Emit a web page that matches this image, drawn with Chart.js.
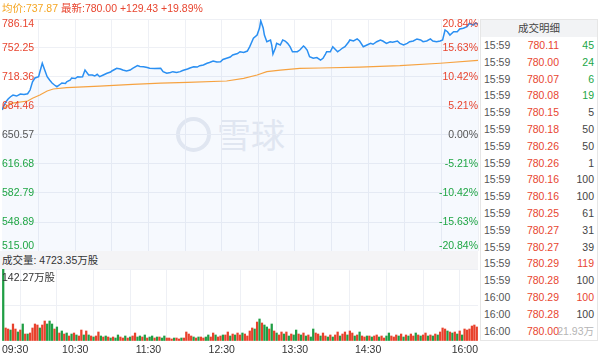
<!DOCTYPE html>
<html><head><meta charset="utf-8">
<script src="https://cdn.jsdelivr.net/npm/chart.js@4/dist/chart.umd.min.js"></script>
<style>
body{margin:0;width:600px;height:358px;overflow:hidden;background:#fff;position:relative;font-family:Arial,"Liberation Sans","Noto Sans CJK SC",sans-serif;font-size:10.5px}
.abs{position:absolute;white-space:nowrap}
#wm{left:176px;top:116px;color:#e9ecf2;font-size:34px;line-height:36px;font-family:"Noto Sans CJK SC",sans-serif}
#wmc{left:176px;top:117px;width:27px;height:27px;border:4px solid #e9ecf2;border-radius:50%}
#band{left:0;top:251px;width:478px;height:18px;background:#f4f4f6;line-height:18px;color:#333}
#panel{left:480px;top:19px;width:116px;height:320px;border:1px solid #e6e6e6;background:#fff}
#phead{left:0;top:0;width:116px;height:17px;background:#f2f3f5;line-height:17px;text-align:center;color:#444}
</style></head>
<body>
<div id="wmc" class="abs"></div>
<div id="wm" class="abs" style="left:217px">雪球</div>
<div class="abs" style="left:0;top:0;width:480px;height:252px"><canvas id="pc"></canvas></div>
<div id="band" class="abs"><span style="padding-left:2px">成交量: 4723.35万股</span></div>
<div class="abs" style="left:0;top:268px;width:480px;height:90px"><canvas id="vc"></canvas></div>
<div class="abs" style="left:2px;top:2px;line-height:12px;color:#f5a623">均价:737.87</div>
<div class="abs" style="left:61px;top:2px;line-height:12px;color:#e8452f">最新:780.00 +129.43 +19.89%</div>
<div id="panel" class="abs"><div id="phead" class="abs">成交明细</div></div>
<script>
// ---- data ----
const prevClose = 650.57;
const priceTicks = [515.00, 548.89, 582.79, 616.68, 650.57, 684.46, 718.36, 752.25, 786.14];
const priceMinutes = [0,3,5,7,9,12,15,18,21,23,25,27,30,31,33,35,37,39,41,43,45,48,49,52,53,56,57,60,62,64,66,68,71,74,76,78,80,83,86,89,90,93,94,97,99,102,105,107,111,113,116,119,121,125,130,132,135,138,140,143,146,148,152,154,157,160,162,165,168,170,173,176,179,181,184,187,189,193,195,198,201,203,206,209,211,212,214,215,217,220,221,222,224,225,228,230,232,234,236,238,242,244,247,248,250,252,255,258,261,263,265,266,269,271,275,277,279,281,284,285,288,291,293,296,299,302,304,307,310,312,315,318,320,324,326,329,332,334,337,340,343,345,348,351,353,356,359,361,363,365,367,370,373,375,378,381,383,386,388,390];
const priceValues = [680.0,689.1,692.6,695.3,697.3,696.1,698.5,697.9,698.8,703.1,712.8,717.2,718.7,724.2,734.4,726.5,718.7,714.8,711.3,709.0,707.0,710.2,711.3,710.8,712.8,714.8,717.2,716.6,718.7,718.4,718.7,726.5,720.7,720.7,719.5,721.5,718.7,720.7,722.7,724.2,725.4,727.7,728.5,727.7,726.5,725.4,726.5,728.5,731.6,730.6,730.4,729.5,728.5,728.3,728.5,724.6,722.7,723.6,724.6,723.6,724.6,726.0,727.7,728.9,730.4,730.0,731.6,732.4,734.4,735.3,737.1,735.9,736.2,738.8,740.2,741.7,744.1,745.8,747.9,747.0,748.7,753.8,763.6,767.4,775.6,784.0,775.6,767.4,759.6,761.6,755.7,745.2,752.2,757.7,755.8,761.6,760.4,757.7,753.8,747.9,747.9,749.9,754.6,753.4,749.9,742.1,740.2,741.1,738.2,740.2,745.2,747.9,747.9,753.8,747.9,749.9,752.2,753.8,759.3,761.6,760.4,762.8,760.4,753.8,755.8,757.7,756.6,759.6,761.6,760.4,757.7,759.6,758.9,760.4,757.7,755.8,757.7,759.6,760.4,762.8,761.6,759.6,760.4,762.8,760.4,759.6,760.4,761.6,773.3,771.3,767.4,771.3,771.3,774.5,775.3,777.1,781.1,779.1,781.5,780.0];
const avgMinutes = [0,7,21,25,31,37,42,53,80,107,130,152,184,198,209,217,228,244,261,293,326,359,390];
const avgValues = [680.0,687.6,690.3,693.5,697.3,702.0,704.3,705.9,707.8,709.8,711.3,712.1,713.7,716.8,720.7,724.6,726.5,728.5,728.9,730.0,731.6,734.4,737.87];
// volume per 2-minute bucket, 万股
const volumes = [
142.27,25.7,23.7,21.7,33.6,23.7,17.8,21.7,33.6,13.8,13.8,15.8,25.7,33.6,31.6,
25.7,31.6,39.5,33.6,39.5,33.6,23.7,27.7,15.8,19.8,13.8,15.8,9.9,13.8,15.8,
11.9,9.9,21.7,11.9,19.8,11.9,9.9,7.9,9.9,17.8,9.9,7.9,9.9,7.9,5.9,
7.9,5.9,11.9,7.9,5.9,9.9,5.9,7.9,9.9,15.8,7.9,9.9,7.9,11.9,5.9,
7.9,9.9,5.9,7.9,7.9,5.9,9.9,5.9,5.9,4.0,5.9,5.9,4.0,5.9,5.9,
17.8,13.8,9.9,7.9,5.9,7.9,7.9,5.9,7.9,11.9,7.9,15.8,11.9,7.9,9.9,
11.9,11.9,17.8,9.9,13.8,11.9,15.8,11.9,15.8,13.8,9.9,19.8,25.7,23.7,37.5,
43.5,35.6,31.6,27.7,23.7,33.6,19.8,15.8,11.9,17.8,13.8,17.8,9.9,13.8,11.9,
21.7,13.8,11.9,15.8,9.9,11.9,7.9,23.7,15.8,13.8,9.9,15.8,9.9,7.9,11.9,
7.9,11.9,17.8,9.9,13.8,17.8,11.9,19.8,15.8,9.9,11.9,17.8,9.9,7.9,9.9,
9.9,7.9,9.9,11.9,7.9,9.9,5.9,9.9,15.8,9.9,7.9,11.9,9.9,13.8,7.9,
11.9,9.9,13.8,9.9,15.8,11.9,9.9,11.9,15.8,9.9,11.9,9.9,13.8,11.9,17.8,
25.7,23.7,19.8,17.8,15.8,17.8,13.8,19.8,11.9,23.7,21.7,23.7,29.6,31.6,27.7];
const volumeDir = (
"grrgrrgrgrgrrrr"+"grrgggrgrgrgrgr"+"grrgrgrgrrgrgrg"+"rggrrgrgrrggrgr"+"ggrgrggrrrgrrgr"+
"rrrgrgrrggrrgrr"+"grrgrgrrgrrrrgr"+"grggrgrgrrgrgrg"+"grgrgrggrrgrrgr"+"grrgrrgrrgrgrrg"+
"rgrrgrrggrrrgrg"+"rgrrgrgrrgrgrgr"+"rrgrgrgrgrrrrrr").split('');
const volMax = 142.27;
const timeTickMinutes = [0,60,120,180,240,300,390];
const timeTickLabels = ['09:30','10:30','11:30','12:30','13:30','14:30','16:00'];
const tradeTimes = ['15:59','15:59','15:59','15:59','15:59','15:59','15:59','15:59','15:59','15:59','15:59','15:59','15:59','15:59','15:59','16:00','16:00','16:00'];
const tradePrices = ['780.11','780.00','780.07','780.08','780.15','780.18','780.26','780.26','780.16','780.16','780.25','780.27','780.27','780.29','780.28','780.29','780.28','780.00'];
const tradeVols = ['45','24','6','19','5','50','50','1','100','100','61','31','39','119','100','100','100','21.93万'];
const tradeVolKind = ['g','g','g','g','n','n','n','n','n','n','n','n','n','r','n','r','n','w'];

// ---- styles ----
const RED='#e8452f', GREEN='#20a645', GRAY='#555', GRID='#eef0f5';
const FONT='10.5px Arial, "Liberation Sans", "Noto Sans CJK SC", sans-serif';

// ---- trades panel ----
const panel=document.getElementById('panel');
const kindColor={g:'#20a645',n:'#444',r:'#e8452f',w:'#b5b5b5'};
tradeTimes.forEach((t,i)=>{
  const top=17+i*16.8;
  const mk=(txt,css)=>{const d=document.createElement('div');d.className='abs';d.textContent=txt;d.style.cssText=css+';top:'+top+'px;line-height:16.8px';panel.appendChild(d);};
  mk(t,'left:3px;color:#555');
  mk(tradePrices[i],'right:38px;color:#e8452f;text-align:right');
  mk(tradeVols[i],'right:3px;text-align:right;color:'+kindColor[tradeVolKind[i]]);
});

// ---- price chart ----
const pricePts = priceMinutes.map((m,i)=>({x:m,y:priceValues[i]}));
const avgPts = avgMinutes.map((m,i)=>({x:m,y:avgValues[i]}));
const priceLabels={id:'priceLabels',afterDraw(c){
  const ctx=c.ctx,a=c.chartArea,y=c.scales.y;
  ctx.save();ctx.font=FONT;
  priceTicks.forEach((v,i)=>{
    let py=y.getPixelForValue(v), base='middle';
    if(i===priceTicks.length-1){base='top';}
    else if(i===0){base='bottom';}
    const col = v>prevClose+0.001?RED:(v<prevClose-0.001?GREEN:GRAY);
    ctx.fillStyle=col;ctx.textBaseline=base;
    ctx.textAlign='left';ctx.fillText(v.toFixed(2),a.left,py);
    ctx.textAlign='right';ctx.fillText(((v-prevClose)/prevClose*100).toFixed(2)+'%',a.right,py);
  });
  ctx.restore();
}};
new Chart(document.getElementById('pc'),{
  type:'line',
  data:{datasets:[
    {data:pricePts,borderColor:'#2a8ff2',borderWidth:1.5,pointRadius:0,tension:0,fill:'start',backgroundColor:'rgba(42,120,240,0.045)'},
    {data:avgPts,borderColor:'#ffa53a',borderWidth:1.2,pointRadius:0,tension:0,fill:false}
  ]},
  options:{responsive:true,maintainAspectRatio:false,animation:false,
    layout:{padding:{left:2,right:2,top:19,bottom:1}},
    plugins:{legend:{display:false},tooltip:{enabled:false}},
    scales:{
      x:{type:'linear',min:0,max:390,ticks:{display:false,stepSize:30},border:{display:false},
         grid:{drawTicks:false,color:ctx=>ctx.tick&&ctx.tick.value===0?'rgba(0,0,0,0)':GRID},
         afterBuildTicks:s=>{s.ticks=[];for(let m=0;m<=390;m+=30)s.ticks.push({value:m});},
         afterFit:s=>{s.height=0;}},
      y:{min:priceTicks[0],max:priceTicks[priceTicks.length-1],ticks:{display:false},border:{display:false},
         grid:{drawTicks:false,color:GRID},
         afterBuildTicks:s=>{s.ticks=priceTicks.map(v=>({value:v}));},
         afterFit:s=>{s.width=0;}}
    }},
  plugins:[priceLabels]
});

// ---- volume chart ----
const volPts = volumes.map((v,i)=>({x:1+2*i,y:v}));
const volColors = volumeDir.map(d=>d==='r'?'#e8412c':'#1f9e44');
const volLabels={id:'volLabels',afterDraw(c){
  const ctx=c.ctx,a=c.chartArea,x=c.scales.x;
  ctx.save();ctx.font=FONT;ctx.fillStyle='#333';
  ctx.textBaseline='top';ctx.textAlign='left';
  ctx.fillText(volMax.toFixed(2)+'万股',a.left,a.top+4);
  ctx.textBaseline='middle';
  timeTickMinutes.forEach((m,i)=>{
    const px=x.getPixelForValue(m);
    ctx.textAlign= i===0?'left':(i===timeTickMinutes.length-1?'right':'center');
    ctx.fillText(timeTickLabels[i],px,a.bottom+9);
  });
  ctx.restore();
}};
new Chart(document.getElementById('vc'),{
  type:'bar',
  data:{datasets:[{data:volPts,backgroundColor:volColors,barThickness:1.6,borderWidth:0}]},
  options:{responsive:true,maintainAspectRatio:false,animation:false,
    layout:{padding:{left:2,right:2,top:1,bottom:17}},
    plugins:{legend:{display:false},tooltip:{enabled:false}},
    scales:{
      x:{type:'linear',min:0,max:390,offset:false,ticks:{display:false},border:{display:false},
         grid:{drawTicks:false,color:ctx=>ctx.tick&&ctx.tick.value===0?'rgba(0,0,0,0)':GRID},
         afterBuildTicks:s=>{s.ticks=[];for(let m=0;m<=390;m+=30)s.ticks.push({value:m});},
         afterFit:s=>{s.height=0;}},
      y:{min:0,max:volMax,ticks:{display:false},border:{display:false},
         grid:{drawTicks:false,color:ctx=>ctx.tick&&ctx.tick.value===0?'rgba(0,0,0,0)':GRID},
         afterBuildTicks:s=>{s.ticks=[{value:0},{value:volMax/2},{value:volMax}];},
         afterFit:s=>{s.width=0;}}
    }},
  plugins:[volLabels]
});
</script>
</body></html>
